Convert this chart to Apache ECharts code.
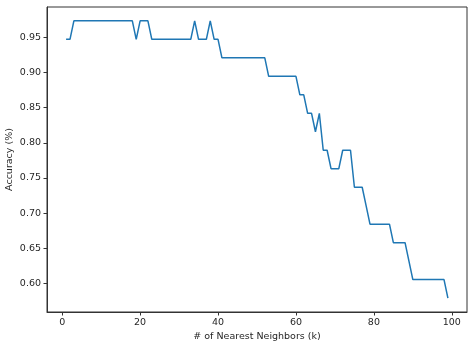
<!DOCTYPE html>
<html>
<head>
<meta charset="utf-8">
<script src="https://cdn.jsdelivr.net/npm/echarts@6/dist/echarts.min.js"></script>
<style>
  html, body { margin: 0; padding: 0; background: #fff; }
  #chart { width: 474px; height: 348px; }
</style>
</head>
<body>
<div id="chart"></div>
<script>
// Number of nearest neighbours tried
const kValues = [
  1, 2, 3, 4, 5, 6, 7, 8, 9, 10, 11, 12, 13, 14, 15, 16, 17, 18, 19, 20,
  21, 22, 23, 24, 25, 26, 27, 28, 29, 30, 31, 32, 33, 34, 35, 36, 37, 38, 39, 40,
  41, 42, 43, 44, 45, 46, 47, 48, 49, 50, 51, 52, 53, 54, 55, 56, 57, 58, 59, 60,
  61, 62, 63, 64, 65, 66, 67, 68, 69, 70, 71, 72, 73, 74, 75, 76, 77, 78, 79, 80,
  81, 82, 83, 84, 85, 86, 87, 88, 89, 90, 91, 92, 93, 94, 95, 96, 97, 98, 99
];

// Test accuracy for each k
const accuracy = [
  0.9474, 0.9474, 0.9737, 0.9737, 0.9737, 0.9737, 0.9737, 0.9737, 0.9737, 0.9737,
  0.9737, 0.9737, 0.9737, 0.9737, 0.9737, 0.9737, 0.9737, 0.9737, 0.9474, 0.9737,
  0.9737, 0.9737, 0.9474, 0.9474, 0.9474, 0.9474, 0.9474, 0.9474, 0.9474, 0.9474,
  0.9474, 0.9474, 0.9474, 0.9737, 0.9474, 0.9474, 0.9474, 0.9737, 0.9474, 0.9474,
  0.9211, 0.9211, 0.9211, 0.9211, 0.9211, 0.9211, 0.9211, 0.9211, 0.9211, 0.9211,
  0.9211, 0.9211, 0.8947, 0.8947, 0.8947, 0.8947, 0.8947, 0.8947, 0.8947, 0.8947,
  0.8684, 0.8684, 0.8421, 0.8421, 0.8158, 0.8421, 0.7895, 0.7895, 0.7632, 0.7632,
  0.7632, 0.7895, 0.7895, 0.7895, 0.7368, 0.7368, 0.7368, 0.7105, 0.6842, 0.6842,
  0.6842, 0.6842, 0.6842, 0.6842, 0.6579, 0.6579, 0.6579, 0.6579, 0.6316, 0.6053,
  0.6053, 0.6053, 0.6053, 0.6053, 0.6053, 0.6053, 0.6053, 0.6053, 0.5789
];

// Tick labels
const xTicks = [0, 20, 40, 60, 80, 100];
const yTicks = [0.60, 0.65, 0.70, 0.75, 0.80, 0.85, 0.90, 0.95];

const xName = '# of Nearest Neighbors (k)';
const yName = 'Accuracy (%)';

// 5% padding around the data range on both axes
function padded(values) {
  const lo = Math.min(...values), hi = Math.max(...values);
  const pad = (hi - lo) * 0.05;
  return [lo - pad, hi + pad];
}
const [xMin, xMax] = padded(kValues);
const [yMin, yMax] = padded(accuracy);

const font = 'DejaVu Sans';
const ink = '#262626';
const frame = '#333';
const fs = 9.5;

const chart = echarts.init(document.getElementById('chart'), null, { renderer: 'canvas' });
chart.setOption({
  animation: false,
  backgroundColor: '#fff',
  grid: {
    left: 47, right: 7, top: 7, bottom: 36,
    outerBoundsMode: 'none',
    containLabel: false,
    show: true, borderColor: frame, borderWidth: 1, backgroundColor: 'transparent'
  },
  xAxis: {
    type: 'value',
    min: xMin, max: xMax,
    name: xName,
    nameLocation: 'middle',
    nameGap: 20,
    nameMoveOverlap: false,
    nameTextStyle: { fontFamily: font, fontSize: fs, color: ink },
    axisLine: { show: true, onZero: false, lineStyle: { color: frame, width: 1 } },
    axisTick: { show: true, length: 3.5, customValues: xTicks, lineStyle: { color: frame } },
    axisLabel: { customValues: xTicks, margin: 6, fontFamily: font, fontSize: fs, color: ink },
    splitLine: { show: false }
  },
  yAxis: {
    type: 'value',
    min: yMin, max: yMax,
    name: yName,
    nameLocation: 'middle',
    nameGap: 32,
    nameRotate: 90,
    nameMoveOverlap: false,
    nameTextStyle: { fontFamily: font, fontSize: fs, color: ink },
    axisLine: { show: true, onZero: false, lineStyle: { color: frame, width: 1 } },
    axisTick: { show: true, length: 3.5, customValues: yTicks, lineStyle: { color: frame } },
    axisLabel: {
      customValues: yTicks, margin: 6, fontFamily: font, fontSize: fs, color: ink,
      formatter: v => v.toFixed(2)
    },
    splitLine: { show: false }
  },
  series: [{
    type: 'line',
    data: kValues.map((k, i) => [k, accuracy[i]]),
    showSymbol: false,
    symbol: 'none',
    lineStyle: { color: '#1f77b4', width: 1.5 },
    z: 3
  }]
});
</script>
</body>
</html>
